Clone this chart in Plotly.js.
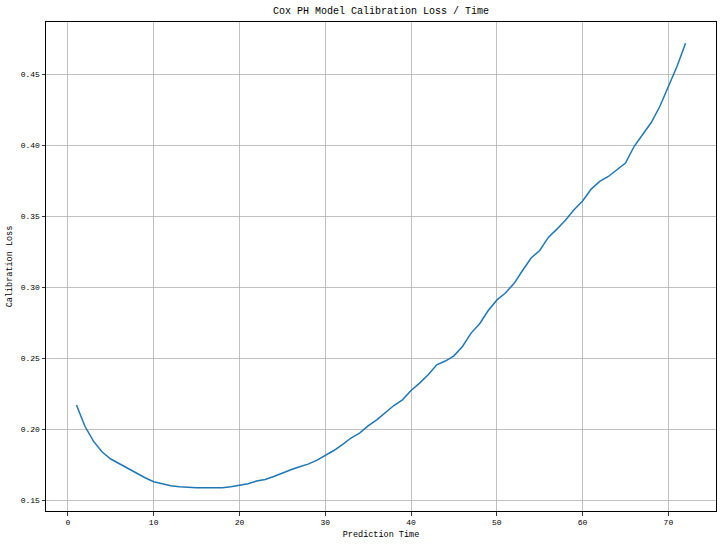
<!DOCTYPE html>
<html>
<head>
<meta charset="utf-8">
<script src="https://cdn.plot.ly/plotly-3.0.1.min.js"></script>
<style>html,body{margin:0;padding:0;background:#fff;}#chart{width:723px;height:545px;}</style>
</head>
<body>
<div id="chart"></div>
<script>
const predictionTime = [1,2,3,4,5,6,7,8,9,10,11,12,13,14,15,16,17,18,19,20,21,22,23,24,25,26,27,28,29,30,31,32,33,34,35,36,37,38,39,40,41,42,43,44,45,46,47,48,49,50,51,52,53,54,55,56,57,58,59,60,61,62,63,64,65,66,67,68,69,70,71,72];
const calibrationLoss = [0.2169,0.2018,0.1913,0.1838,0.1789,0.1756,0.1720,0.1687,0.1657,0.1629,
  0.1613,0.1601,0.1594,0.1589,0.1587,0.1586,0.1586,0.1587,0.1594,0.1603,
  0.1615,0.1634,0.1645,0.1666,0.1692,0.1713,0.1735,0.1753,0.1779,0.1812,
  0.1849,0.1890,0.1937,0.1972,0.2023,0.2065,0.2117,0.2166,0.2206,0.2272,
  0.2324,0.2382,0.2453,0.2479,0.2516,0.2582,0.2676,0.2742,0.2835,0.2908,
  0.2958,0.3025,0.3117,0.3205,0.3258,0.3350,0.3408,0.3471,0.3544,0.3606,
  0.3690,0.3744,0.3779,0.3826,0.3873,0.3990,0.4073,0.4159,0.4272,0.4408,
  0.4554,0.4718];
const titleText = "Cox PH Model Calibration Loss / Time";
const xLabel = "Prediction Time";
const yLabel = "Calibration Loss";
const xTicks = [0,10,20,30,40,50,60,70];
const yTicks = [0.15,0.20,0.25,0.30,0.35,0.40,0.45];

const mono = "'Liberation Mono', 'DejaVu Sans Mono', monospace";

const trace = {
  x: predictionTime, y: calibrationLoss, type: 'scatter', mode: 'lines',
  line: {color: '#1f77b4', width: 1.5}, hoverinfo: 'none'
};

const axisCommon = {
  showline: true, linecolor: '#000', linewidth: 1, mirror: true,
  showgrid: true, gridcolor: '#b0b0b0', gridwidth: 0.8,
  ticks: 'outside', ticklen: 3.5, tickwidth: 0.8, tickcolor: '#000',
  zeroline: false, tickfont: {family: mono, size: 8, color: '#000'}
};

const layout = {
  width: 723, height: 545,
  margin: {l: 46, r: 7, t: 22, b: 34},
  paper_bgcolor: '#fff', plot_bgcolor: '#fff',
  showlegend: false,
  title: {text: titleText, font: {family: mono, size: 10, color: '#000'}, x: 0.5, xref: 'paper', y: 1, yref: 'container', yanchor: 'top', pad: {t: 7}},
  xaxis: Object.assign({}, axisCommon, {
    range: [-2.55, 75.55], tickvals: xTicks, ticktext: xTicks.map(String),
    title: {text: xLabel, font: {family: mono, size: 8.5, color: '#000'}, standoff: 4}
  }),
  yaxis: Object.assign({}, axisCommon, {
    range: [0.1423, 0.4867], tickvals: yTicks, ticktext: yTicks.map(v => v.toFixed(2)),
    title: {text: yLabel, font: {family: mono, size: 8.5, color: '#000'}, standoff: 6}
  })
};

Plotly.newPlot('chart', [trace], layout, {displayModeBar: false, staticPlot: true});
</script>
</body>
</html>
